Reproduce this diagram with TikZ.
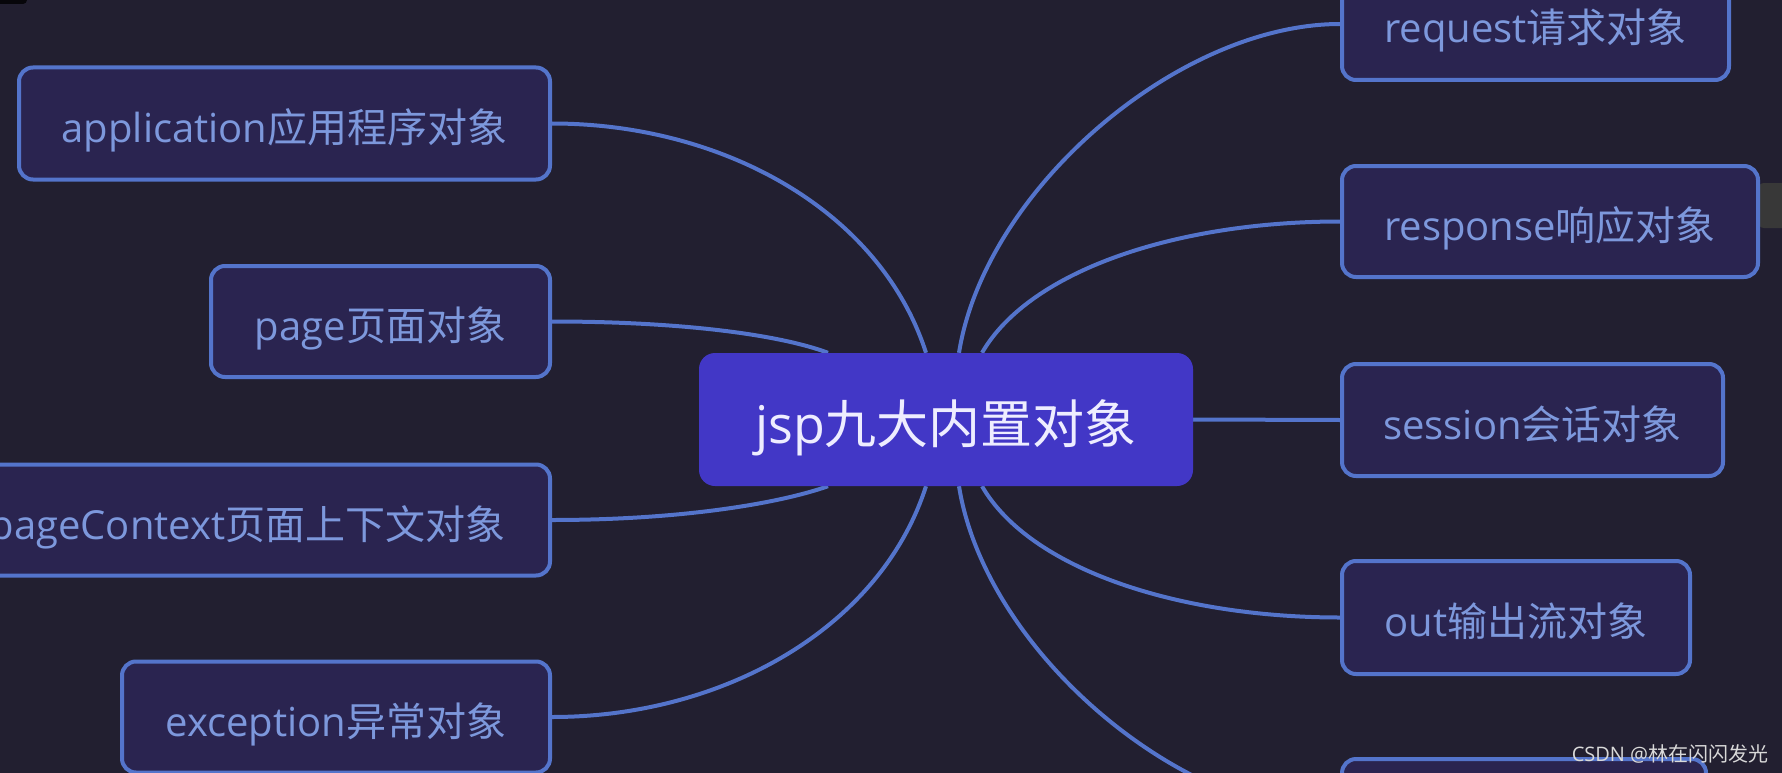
\documentclass[tikz,border=0pt]{standalone}
\usepackage{fontspec}
\setmainfont{Open Sans}
\newfontfamily\cjk{Noto Sans CJK SC}
\definecolor{bgc}{HTML}{221F30}
\definecolor{boxfill}{HTML}{2A2450}
\definecolor{boxline}{HTML}{5474CB}
\definecolor{boxtext}{HTML}{7D98DC}
\definecolor{mainfill}{HTML}{4237C6}
\definecolor{maintext}{HTML}{EEEDFF}
\pgfdeclarelayer{bglayer}
\pgfdeclarelayer{edgelayer}
\pgfsetlayers{bglayer,edgelayer,main}
\tikzset{
  child/.style={draw=boxline, fill=boxfill, line width=4pt, rounded corners=14pt,
    inner sep=0pt, text=boxtext, font=\fontsize{40}{48}\selectfont,
    text height=38pt, text depth=0pt},
  root/.style={fill=mainfill, rounded corners=16pt, inner sep=0pt,
    text=maintext, font=\fontsize{52}{60}\selectfont,
    text height=48pt, text depth=0pt},
  link/.style={draw=boxline, line width=4pt},
}
\begin{document}
\begin{tikzpicture}[x=1pt,y=-1pt]
\begin{pgfonlayer}{bglayer}
\path[use as bounding box, fill=bgc] (0,0) rectangle (1782,773);
\fill[fill=black!80!bgc, rounded corners=4pt] (-10,-10) rectangle (27,4);
\fill[fill=black!78!white, rounded corners=6pt] (1758,183) rectangle (1800,228);
\end{pgfonlayer}
\clip (0,0) rectangle (1782,773);

\node[root, minimum width=494pt, minimum height=133pt] (c) at (946,419.5) {jsp{\cjk 九大内置对象}};

\node[child, minimum width=531pt, minimum height=112pt] (app) at (284.5,123.5) {application{\cjk 应用程序对象}};
\node[child, minimum width=339pt, minimum height=111pt] (page) at (380.5,321.5) {page{\cjk 页面对象}};
\node[child, minimum width=605pt, minimum height=111pt] (pctx) at (247.5,520) {pageContext{\cjk 页面上下文对象}};
\node[child, minimum width=428pt, minimum height=111pt] (exc) at (336,717) {exception{\cjk 异常对象}};

\node[child, minimum width=387pt, minimum height=112pt] (req) at (1535.5,24) {request{\cjk 请求对象}};
\node[child, minimum width=416pt, minimum height=111pt] (resp) at (1550,221.5) {response{\cjk 响应对象}};
\node[child, minimum width=381pt, minimum height=112pt] (sess) at (1532.5,420) {session{\cjk 会话对象}};
\node[child, minimum width=348pt, minimum height=113pt] (out) at (1516,617.5) {out{\cjk 输出流对象}};
\node[child, minimum width=364pt, minimum height=112pt] (bot) at (1524,815) {};

\begin{pgfonlayer}{edgelayer}
\draw[link] (app.east) .. controls +(170,0) and +(-46,-143) .. ([xshift=-20pt]c.north);
\draw[link] (page.east) .. controls +(130,0) and +(-48,-18) .. ([xshift=-118pt]c.north);
\draw[link] (pctx.east) .. controls +(130,0) and +(-48,17) .. ([xshift=-118pt]c.south);
\draw[link] (exc.east) .. controls +(170,0) and +(-46,143) .. ([xshift=-20pt]c.south);
\draw[link] (req.west) .. controls +(-162,0) and +(26,-163) .. ([xshift=13pt]c.north);
\draw[link] (resp.west) .. controls +(-162,0) and +(48,-83) .. ([xshift=36pt]c.north);
\draw[link] (c.east) -- (sess.west);
\draw[link] (out.west) .. controls +(-162,0) and +(48,83) .. ([xshift=36pt]c.south);
\draw[link] (bot.west) .. controls +(-162,0) and +(26,163) .. ([xshift=13pt]c.south);
\end{pgfonlayer}

\node[text=black!15, font=\fontsize{20}{24}\selectfont, inner sep=0pt] (wm) at (1670,754) {CSDN @{\cjk 林在闪闪发光}};
\end{tikzpicture}
\end{document}
